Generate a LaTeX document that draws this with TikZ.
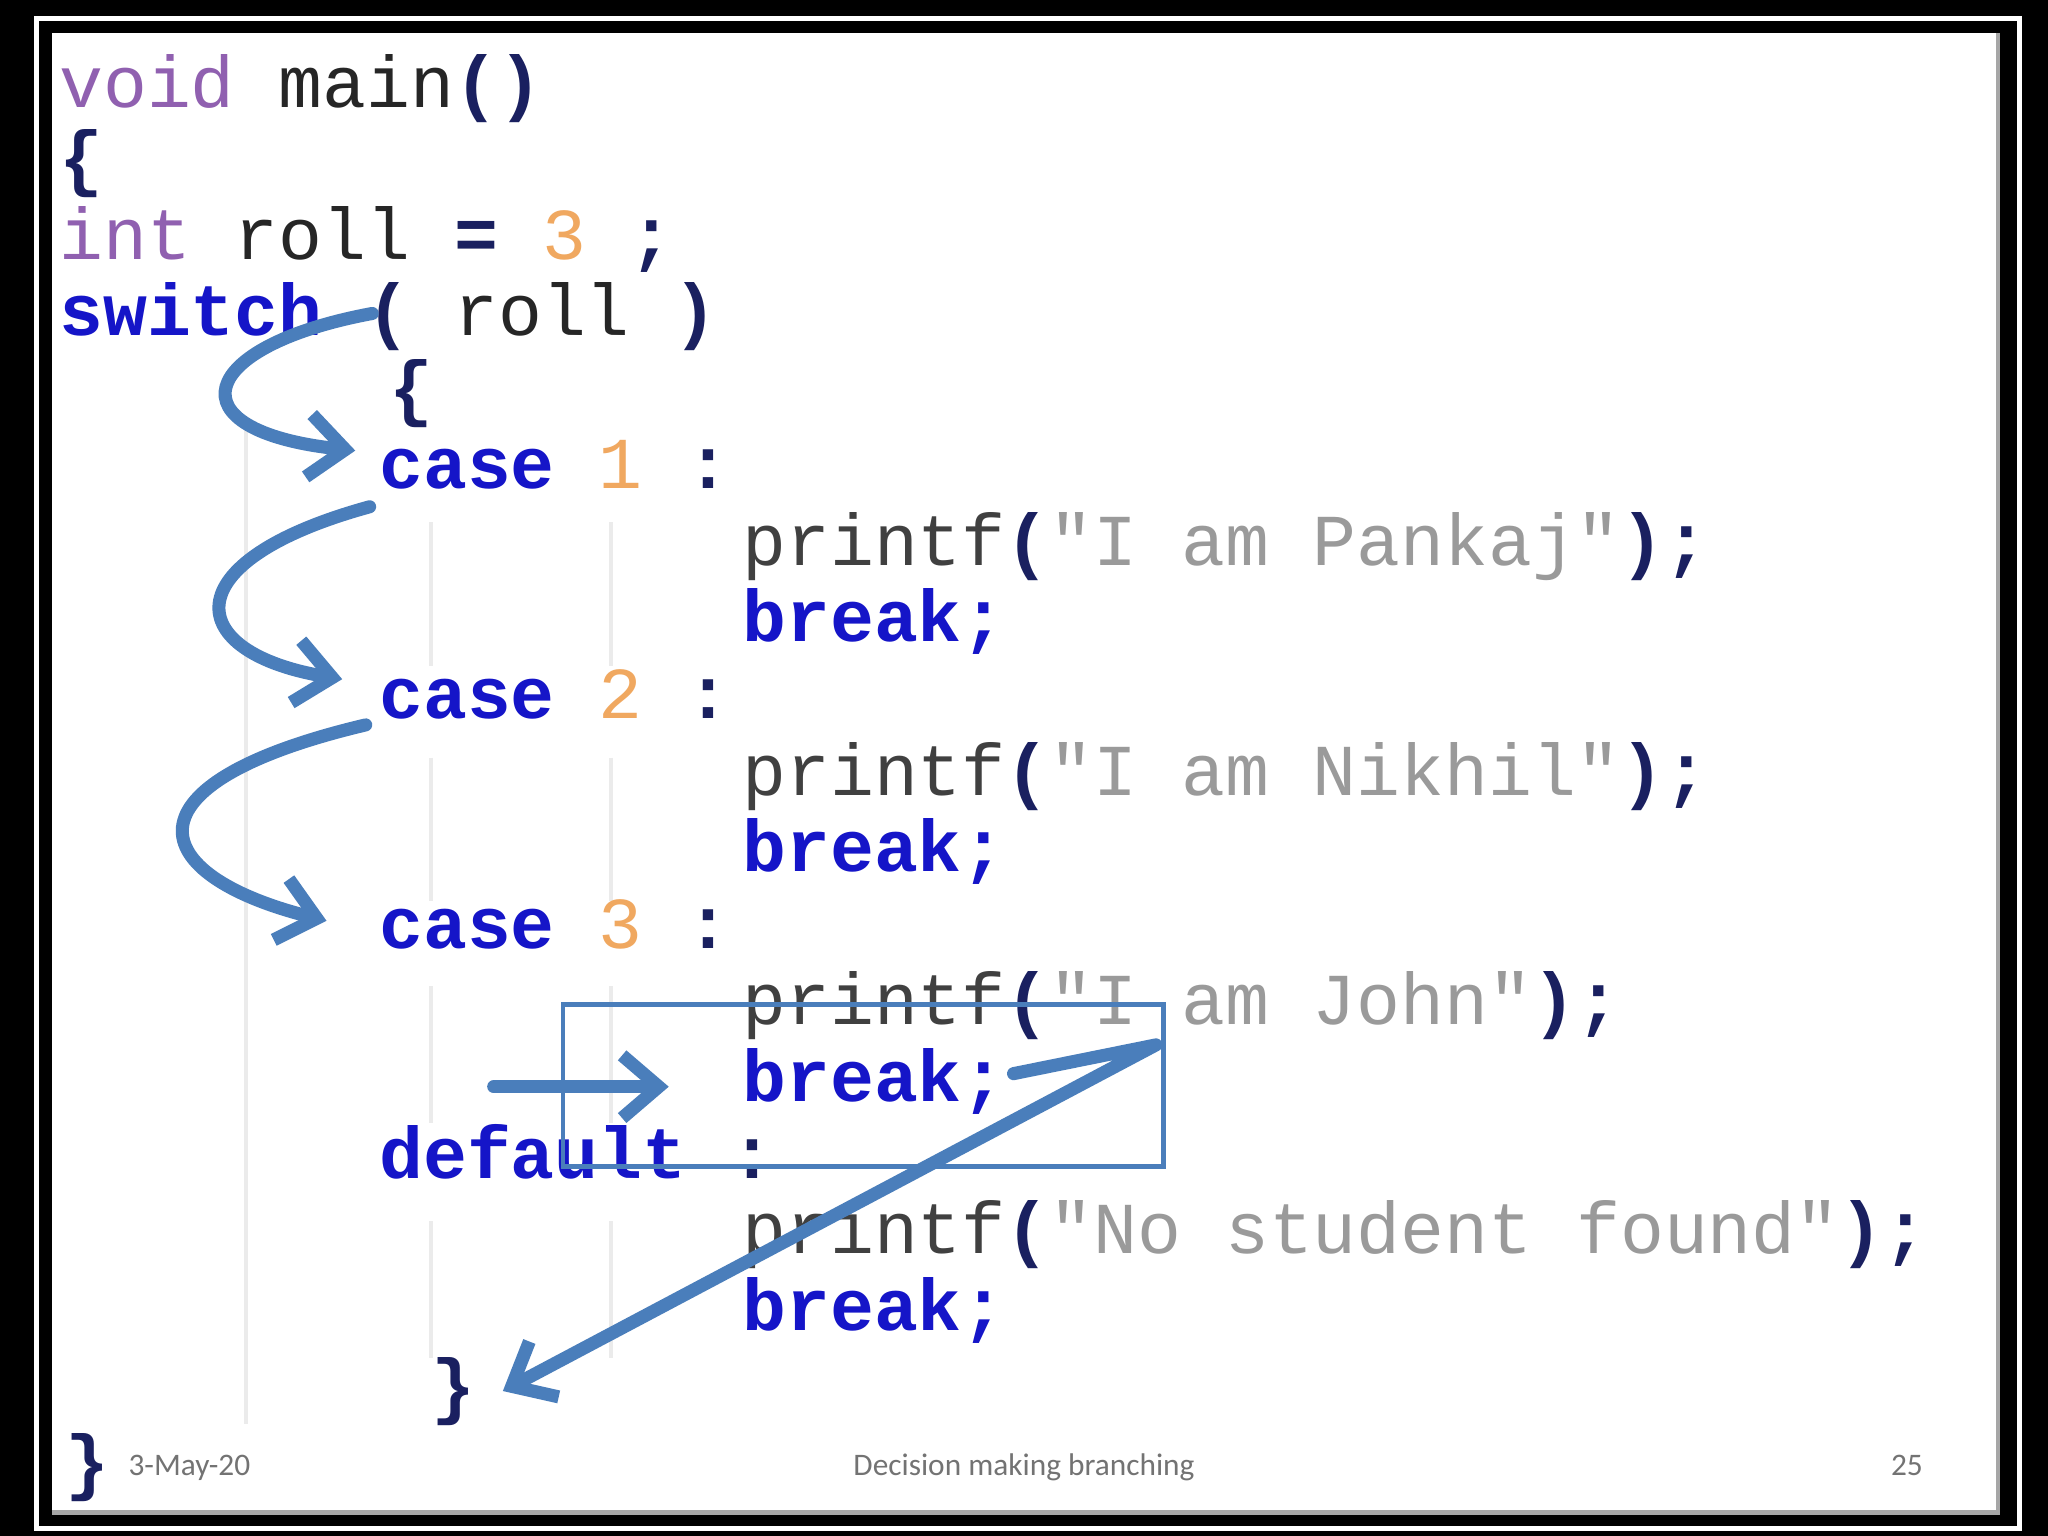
\documentclass[tikz,border=0pt]{standalone}
\usepackage{fontspec}
\setmonofont{Liberation Mono}
\newfontfamily\foot{Carlito}
\usetikzlibrary{arrows.meta}
\definecolor{kw}{HTML}{1515C8}
\definecolor{ty}{HTML}{9060B0}
\definecolor{num}{HTML}{F0A860}
\definecolor{str}{HTML}{9A9A9A}
\definecolor{nav}{HTML}{1A2060}
\definecolor{arr}{HTML}{4A7EBB}
\begin{document}
\begin{tikzpicture}[x=0.5pt,y=-0.5pt,
  code/.style={anchor=base west,inner sep=0pt,font=\ttfamily\fontsize{28}{30}\selectfont},
  flow/.style={draw=arr,line width=5pt,line cap=round,-{Straight Barb[length=14pt,width=24pt,line width=5pt]}},
  guide/.style={draw=black!8,line width=1.5pt},
  ftxt/.style={inner sep=0pt,anchor=base,font=\foot\fontsize{12}{14}\selectfont,text=black!55}]
\useasboundingbox (0,0) rectangle (1568,1176);
\fill[black] (0,0) rectangle (1568,1176);
\draw[white,line width=2pt] (28,14) rectangle (1546,1170);
\fill[black!35] (40,25) rectangle (1531,1160);
\fill[white] (40,25) rectangle (1528,1156);
% guides
\draw[guide] (188,320) -- (188,1090);
\foreach \a/\b in {400/510,580/690,755/860,935/1040}{
  \draw[guide] (330,\a) -- (330,\b);
  \draw[guide] (468,\a) -- (468,\b);}
% code
\node[code] (l1) at (45,82) {\textcolor{ty}{void} \textcolor{black!85}{main}\textcolor{nav}{\bfseries()}};
\node[code] (l2) at (45,140) {\textcolor{nav}{\bfseries\{}};
\node[code] (l3) at (45,199) {\textcolor{ty}{int} \textcolor{black!85}{roll} \textcolor{nav}{\bfseries=} \textcolor{num}{3} \textcolor{nav}{\bfseries;}};
\node[code] (l4) at (45,257) {\textcolor{kw}{\bfseries switch} \textcolor{nav}{\bfseries(} \textcolor{black!85}{roll} \textcolor{nav}{\bfseries)}};
\node[code] (l5) at (298,316) {\textcolor{nav}{\bfseries\{}};
\node[code] (c1) at (290,374) {\textcolor{kw}{\bfseries case} \textcolor{num}{1} \textcolor{nav}{\bfseries:}};
\node[code] (p1) at (568,433) {\textcolor{black!75}{printf}\textcolor{nav}{\bfseries(}\textcolor{str}{"I am Pankaj"}\textcolor{nav}{\bfseries);}};
\node[code] (b1) at (568,491) {\textcolor{kw}{\bfseries break;}};
\node[code] (c2) at (290,550) {\textcolor{kw}{\bfseries case} \textcolor{num}{2} \textcolor{nav}{\bfseries:}};
\node[code] (p2) at (568,609) {\textcolor{black!75}{printf}\textcolor{nav}{\bfseries(}\textcolor{str}{"I am Nikhil"}\textcolor{nav}{\bfseries);}};
\node[code] (b2) at (568,667) {\textcolor{kw}{\bfseries break;}};
\node[code] (c3) at (290,726) {\textcolor{kw}{\bfseries case} \textcolor{num}{3} \textcolor{nav}{\bfseries:}};
\node[code] (p3) at (568,784) {\textcolor{black!75}{printf}\textcolor{nav}{\bfseries(}\textcolor{str}{"I am John"}\textcolor{nav}{\bfseries);}};
\node[code] (b3) at (568,843) {\textcolor{kw}{\bfseries break;}};
\node[code] (df) at (290,902) {\textcolor{kw}{\bfseries default} \textcolor{nav}{\bfseries:}};
\node[code] (p4) at (568,960) {\textcolor{black!75}{printf}\textcolor{nav}{\bfseries(}\textcolor{str}{"No student found"}\textcolor{nav}{\bfseries);}};
\node[code] (b4) at (568,1019) {\textcolor{kw}{\bfseries break;}};
\node[code] (e1) at (330,1080) {\textcolor{nav}{\bfseries\}}};
\node[code] (e2) at (50,1138) {\textcolor{nav}{\bfseries\}}};
% footer
\node[ftxt] (f1) at (145,1130) {3-May-20};
\node[ftxt] (f2) at (784,1130) {Decision making branching};
\node[ftxt] (f3) at (1460,1130) {25};
% box
\node[draw=arr,line width=1.8pt,minimum width=230,minimum height=62,inner sep=0pt] (bx) at (661,831) {};
% arrow coordinates
\coordinate (s1) at (285,240); \coordinate (t1) at (272,345);
\coordinate (s2) at (283,388); \coordinate (t2) at (262,520);
\coordinate (s3) at (280,555); \coordinate (t3) at (250,705);
\coordinate (s4) at (378,832); \coordinate (t4) at (512,832);
\coordinate (s5) at (776,822); \coordinate (m5) at (885,800); \coordinate (t5) at (385,1065);
\draw[flow] (s1) .. controls (150,265) and (130,330) .. (t1);
\draw[flow] (s2) .. controls (130,430) and (140,500) .. (t2);
\draw[flow] (s3) .. controls (90,600) and (110,670) .. (t3);
\draw[flow] (s4) -- (t4);
\draw[flow,line join=round] (s5) -- (m5) -- (t5);
\end{tikzpicture}
\end{document}
